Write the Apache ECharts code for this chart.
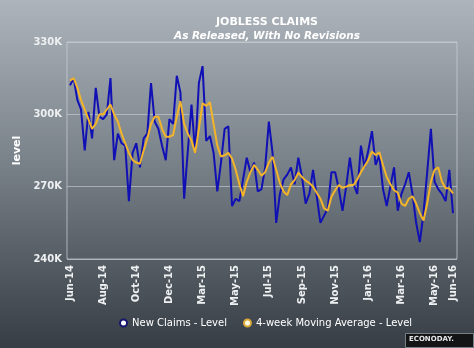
<!DOCTYPE html>
<html>
<head>
<meta charset="utf-8">
<script src="https://cdn.jsdelivr.net/npm/echarts@6/dist/echarts.min.js"></script>
<style>html,body{margin:0;padding:0;}#c{width:474px;height:348px;}</style>
</head>
<body>
<div id="c"></div>
<script>
// Weekly values in thousands, Jun-14 .. Jun-16 (105 weeks)
var newClaims = [312,315,306,302,285,301,290,311,299,298,300,315,281,292,288,287,264,284,288,278,
  290,292,313,297,294,287,281,298,296,316,309,265,285,304,284,313,320,289,291,284,
  268,280,294,295,262,265,264,273,282,276,280,268,269,278,297,284,255,267,273,275,
  278,271,282,274,263,267,277,266,255,258,261,276,276,269,260,270,282,271,267,287,
  278,285,293,279,283,269,262,270,278,260,267,271,276,267,255,247,259,276,294,272,
  269,267,264,277,259];
var movingAvg = [314,315,311,306,302,298,294,296,300,300,302,304,300,297,292,288,284,281,280,279.5,
  285,290,296,299,299,294,290.7,290.7,291.4,299,305.5,296,292,289,284,294,304.6,303.5,305,296,
  287,282.5,283,284,281.7,277,271,266,272,276,279,277,274.5,276,280,282.4,277,271.5,268,266.5,
  271,272.7,275.8,274,272.5,271.5,270,267.5,265,261,260,265.8,268.5,270.7,269.5,270,270.7,270.7,273,276,
  278.5,281,284.5,283.1,284.3,279,274,271,268.5,267.5,263,262,265,266,263,259,256,263,272,277,
  278,272,269.3,269.3,267.2];
var tickWeeks = [0,9,18,27,36,45,54,63,72,81,90,99,104];
var tickLabels = ['Jun-14','Aug-14','Oct-14','Dec-14','Mar-15','May-15','Jul-15','Sep-15','Nov-15','Jan-16','Mar-16','May-16','Jun-16'];
var seriesNames = ['New Claims - Level','4-week Moving Average - Level'];

function pairs(arr){ return arr.map(function(v,i){ return [i,v]; }); }

var chart = echarts.init(document.getElementById('c'), null, {renderer:'canvas'});
chart.setOption({
  animation:false,
  backgroundColor:{type:'linear',x:0,y:0,x2:0,y2:1,colorStops:[
    {offset:0,color:'#adb4bb'},{offset:0.45,color:'#7b838b'},{offset:1,color:'#363d44'}]},
  title:{
    text:'JOBLESS CLAIMS',
    subtext:'As Released, With No Revisions',
    left:262, textAlign:'center', top:12, itemGap:3,
    textStyle:{color:'#ffffff',fontFamily:'DejaVu Sans',fontWeight:'bold',fontSize:11},
    subtextStyle:{color:'#ffffff',fontFamily:'DejaVu Sans',fontWeight:'bold',fontStyle:'italic',fontSize:10.5}
  },
  grid:{left:67,right:17,top:42,bottom:89,show:true,borderColor:'rgba(200,206,212,0.75)',borderWidth:1,backgroundColor:'transparent'},
  xAxis:{
    type:'value', min:-0.81, max:105.09,
    axisLine:{show:false}, axisTick:{show:false}, splitLine:{show:false},
    axisLabel:{
      customValues:tickWeeks, rotate:90, margin:6,
      color:'#eef0f2', fontFamily:'DejaVu Sans', fontWeight:'bold', fontSize:10,
      formatter:function(v){ var k=tickWeeks.indexOf(Math.round(v)); return k>=0?tickLabels[k]:''; }
    }
  },
  yAxis:{
    type:'value', min:240, max:330, interval:30,
    name:'level', nameLocation:'middle', nameGap:42,
    nameTextStyle:{color:'#ffffff',fontFamily:'DejaVu Sans',fontWeight:'bold',fontSize:11},
    axisLine:{show:false}, axisTick:{show:false},
    splitLine:{lineStyle:{color:'rgba(205,210,216,0.6)',width:1}},
    axisLabel:{margin:5,color:'#eef0f2',fontFamily:'DejaVu Sans',fontWeight:'bold',fontSize:10,
      formatter:function(v){ return v+'K'; }}
  },
  legend:{
    left:114, top:313, itemWidth:7, itemHeight:7, itemGap:16, icon:'circle',
    textStyle:{color:'#ffffff',fontFamily:'DejaVu Sans',fontSize:10},
    data:[
      {name:seriesNames[0],itemStyle:{color:'#ffffff',borderColor:'#15166e',borderWidth:2}},
      {name:seriesNames[1],itemStyle:{color:'#fffbe0',borderColor:'#d9a93a',borderWidth:2}}
    ]
  },
  series:[
    {name:seriesNames[0],type:'line',data:pairs(newClaims),showSymbol:false,
      lineStyle:{color:'#1010b4',width:2},itemStyle:{color:'#1010b4'}},
    {name:seriesNames[1],type:'line',data:pairs(movingAvg),showSymbol:false,
      lineStyle:{color:'#f3b42a',width:2},itemStyle:{color:'#f3b42a'}}
  ],
  graphic:[
    {type:'rect',left:405,top:333,shape:{width:68,height:14},style:{fill:'#121416',stroke:'#7a8088',lineWidth:1}},
    {type:'text',left:409,top:336,style:{text:'ECONODAY.',fill:'#e8e8e8',font:'bold 7px DejaVu Sans',letterSpacing:1.2}}
  ]
});
</script>
</body>
</html>
